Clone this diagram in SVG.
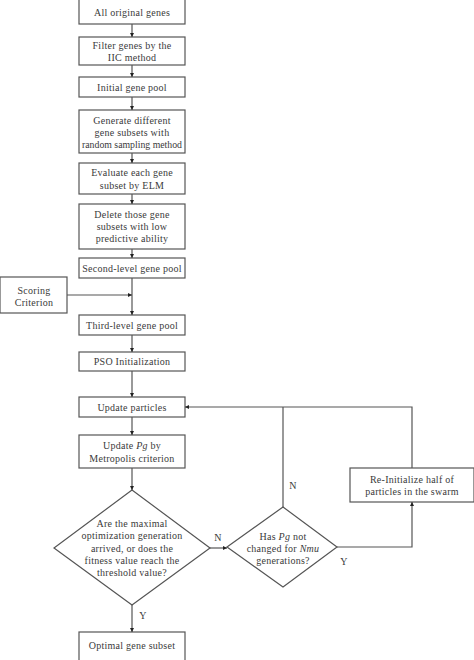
<svg xmlns="http://www.w3.org/2000/svg" width="474" height="660" viewBox="0 0 474 660">
<style>
rect,polygon{fill:#fff;stroke:#555;stroke-width:1.2}
text{font-family:"Liberation Serif",serif;font-size:10px;fill:#3a3a3a;text-anchor:middle;dominant-baseline:central;letter-spacing:0.25px}
.c{fill:none;stroke:#555;stroke-width:1.2}
.i{font-style:italic}
.t{letter-spacing:0}
</style>
<defs>
<marker id="a" viewBox="0 0 6 6" refX="6" refY="3" markerWidth="4" markerHeight="4" orient="auto" markerUnits="userSpaceOnUse">
<path d="M0,0L6,3L0,6z" fill="#222"/>
</marker>
</defs>
<rect x="0" y="0" width="474" height="660" style="fill:#fff;stroke:none"/>
<g id="n1"><rect x="79" y="-1" width="106" height="25"/><text x="132" y="12">All original genes</text></g>
<g id="n2"><rect x="79" y="37" width="106" height="28"/><text x="132" y="45">Filter genes by the</text><text x="132" y="57">IIC method</text></g>
<g id="n3"><rect x="79" y="77" width="106" height="20"/><text x="132" y="87">Initial gene pool</text></g>
<g id="n4"><rect x="79" y="110" width="106" height="43"/><text x="132" y="120">Generate different</text><text x="132" y="132">gene subsets with</text><text class="t" x="132" y="144" textLength="100" lengthAdjust="spacingAndGlyphs">random sampling method</text></g>
<g id="n5"><rect x="79" y="163" width="106" height="31"/><text x="132" y="172">Evaluate each gene</text><text x="132" y="185">subset by ELM</text></g>
<g id="n6"><rect x="79" y="204" width="106" height="45"/><text x="132" y="214">Delete those gene</text><text x="132" y="226">subsets with low</text><text x="132" y="238">predictive ability</text></g>
<g id="n7"><rect x="79" y="258" width="106" height="20"/><text x="132" y="268">Second-level gene pool</text></g>
<g id="n8"><rect x="0" y="277" width="67" height="36"/><text x="34" y="290">Scoring</text><text x="34" y="302">Criterion</text></g>
<g id="n9"><rect x="79" y="315" width="106" height="20"/><text x="132" y="325">Third-level gene pool</text></g>
<g id="n10"><rect x="79" y="352" width="106" height="19"/><text x="132" y="361.5">PSO Initialization</text></g>
<g id="n11"><rect x="79" y="397" width="106" height="20"/><text x="132" y="407">Update particles</text></g>
<g id="n12"><rect x="79" y="435" width="106" height="33"/><text x="132" y="445">Update <tspan class="i">Pg</tspan> by</text><text x="132" y="458">Metropolis criterion</text></g>
<g id="n13"><polygon points="132,490 210,548 132,605 54,548"/><text x="132" y="523">Are the maximal</text><text x="132" y="535.5">optimization generation</text><text x="132" y="548">arrived, or does the</text><text x="132" y="560">fitness value reach the</text><text x="132" y="572">threshold value?</text></g>
<g id="n14"><polygon points="283,507 337,547 283,587 227,547"/><text x="283" y="536">Has <tspan class="i">Pg</tspan> not</text><text x="283" y="548">changed for <tspan class="i">Nmu</tspan></text><text x="283" y="560">generations?</text></g>
<g id="n15"><rect x="350" y="468" width="124" height="34"/><text x="412" y="479">Re-Initialize half of</text><text x="412" y="491">particles in the swarm</text></g>
<g id="n16"><rect x="79" y="632" width="106" height="30"/><text x="132" y="645">Optimal gene subset</text></g>
<g id="connectors">
<path class="c" d="M132,24V37" marker-end="url(#a)"/>
<path class="c" d="M132,65V77" marker-end="url(#a)"/>
<path class="c" d="M132,97V110" marker-end="url(#a)"/>
<path class="c" d="M132,153V163" marker-end="url(#a)"/>
<path class="c" d="M132,194V204" marker-end="url(#a)"/>
<path class="c" d="M132,249V258" marker-end="url(#a)"/>
<path class="c" d="M132,278V315" marker-end="url(#a)"/>
<path class="c" d="M67,295H132" marker-end="url(#a)"/>
<path class="c" d="M132,335V352" marker-end="url(#a)"/>
<path class="c" d="M132,371V397" marker-end="url(#a)"/>
<path class="c" d="M132,417V435" marker-end="url(#a)"/>
<path class="c" d="M132,468V490" marker-end="url(#a)"/>
<path class="c" d="M132,605V632" marker-end="url(#a)"/>
<path class="c" d="M210,548H227" marker-end="url(#a)"/>
<path class="c" d="M283,507V407"/>
<path class="c" d="M412,468V407H185" marker-end="url(#a)"/>
<path class="c" d="M337,547H412V502" marker-end="url(#a)"/>
<text x="143" y="615">Y</text>
<text x="218" y="537">N</text>
<text x="293" y="485">N</text>
<text x="344" y="561">Y</text>
</g>
</svg>
